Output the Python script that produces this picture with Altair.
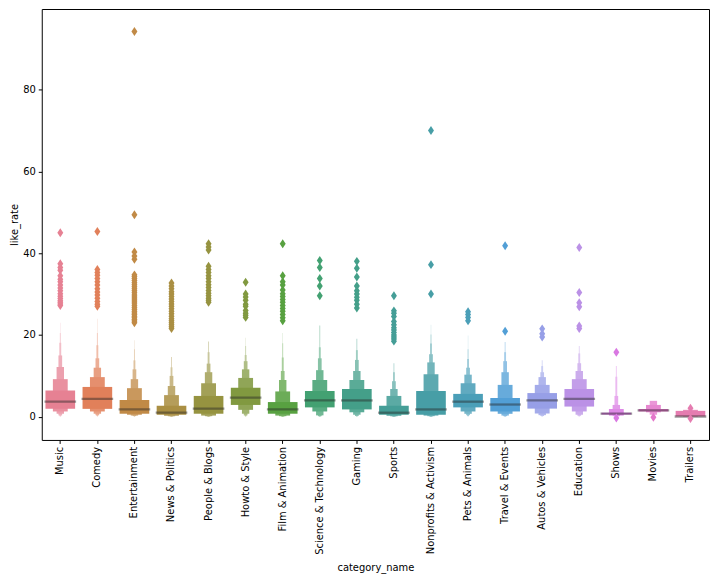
import math
import colorsys
import altair as alt
import pandas as pd

categories = ["Music", "Comedy", "Entertainment", "News & Politics", "People & Blogs",
              "Howto & Style", "Film & Animation", "Science & Technology", "Gaming", "Sports",
              "Nonprofits & Activism", "Pets & Animals", "Travel & Events", "Autos & Vehicles",
              "Education", "Shows", "Movies", "Trailers"]

medians = [3.7, 4.4, 1.8, 1.0, 2.0, 4.7, 1.8, 4.0, 4.0, 1.0, 1.8, 3.7, 3.0, 4.0, 4.4, 0.75, 1.55, 0.07]

# letter values, innermost (IQR) first
upper_values = [
    [6.4, 9.2, 12.2, 15.0, 18.1, 20.5, 23.0],
    [7.3, 9.7, 12.0, 14.3, 17.5, 20.5, 24.0],
    [4.1, 7.0, 9.2, 11.6, 13.8, 16.5, 18.7],
    [2.7, 5.3, 7.5, 10.0, 12.1, 14.6],
    [5.1, 8.2, 10.9, 13.0, 15.8, 18.4],
    [7.1, 9.5, 11.6, 13.6, 15.1, 17.3, 19.3],
    [3.6, 6.2, 9.0, 11.2, 14.5, 18.0, 20.5],
    [6.3, 9.0, 11.4, 14.3, 17.0, 22.3],
    [6.8, 9.0, 11.2, 13.9, 16.3, 19.1],
    [2.7, 5.1, 6.8, 8.7, 10.9, 13.1],
    [6.3, 10.4, 13.3, 15.3, 17.9, 20.1, 22.5],
    [5.6, 8.2, 10.3, 12.0, 14.1, 16.5, 19.9],
    [4.6, 7.8, 10.9, 13.6, 15.8, 18.3],
    [5.8, 7.8, 9.7, 10.9, 12.4, 13.8],
    [6.8, 9.2, 11.2, 13.1, 15.5, 17.3],
    [1.0, 1.9, 2.9, 5.1, 9.8, 12.4],
    [1.9, 2.9, 3.9],
    [1.45, 1.7],
]

lower_values = [
    [1.94, 1.3, 0.73, 0.35, 0.15, 0.08, 0.03],
    [1.94, 1.3, 0.75, 0.4, 0.2, 0.1, 0.05],
    [0.75, 0.5, 0.3, 0.2, 0.1, 0.05, 0.02],
    [0.5, 0.25, 0.15, 0.08, 0.04, 0.02],
    [0.75, 0.3, 0.15, 0.08, 0.04, 0.02],
    [2.9, 1.7, 0.75, 0.35, 0.15, 0.07, 0.03],
    [0.75, 0.3, 0.15, 0.08, 0.04, 0.02, 0.01],
    [2.3, 1.3, 0.35, 0.15, 0.07, 0.03],
    [1.8, 1.1, 0.5, 0.2, 0.1, 0.05],
    [0.5, 0.25, 0.12, 0.06, 0.03, 0.01],
    [0.5, 0.3, 0.15, 0.08, 0.04, 0.02, 0.01],
    [2.3, 1.3, 0.73, 0.4, 0.2, 0.1, 0.05],
    [1.3, 0.73, 0.3, 0.15, 0.07, 0.03],
    [2.0, 0.8, 0.4, 0.2, 0.1, 0.05],
    [2.5, 1.3, 0.5, 0.25, 0.12, 0.06],
    [0.55, 0.3, 0.15, 0.05, 0.02, 0.01],
    [1.3, 1.1, 0.5],
    [0.07, 0.03],
]

outliers = [
    [27.2, 27.6, 28.0, 28.4, 28.9, 29.5, 30.1, 30.8, 31.5, 32.2, 33.0, 33.6, 34.5, 35.8, 36.5, 37.4, 45.0],
    [27.0, 27.5, 28.2, 29.0, 29.8, 30.5, 31.3, 32.2, 33.0, 33.8, 34.6, 35.3, 36.0, 45.3],
    [23.0, 23.4, 23.8, 24.2, 24.6, 25.0, 25.4, 25.8, 26.3, 26.8, 27.3, 27.8, 28.3, 28.8, 29.3,
     29.8, 30.3, 30.8, 31.3, 31.8, 32.3, 32.8, 33.3, 33.8, 34.3, 34.7, 38.5, 39.3, 40.3, 49.4, 94.2],
    [21.6, 22.0, 22.5, 23.0, 23.5, 24.0, 24.6, 25.2, 25.8, 26.4, 27.0, 27.6, 28.2, 28.8, 29.4,
     30.0, 30.6, 31.3, 32.0, 32.7],
    [28.0, 28.5, 29.0, 29.6, 30.2, 30.9, 31.6, 32.3, 33.0, 33.8, 34.5, 35.3, 36.0, 36.8, 40.8, 41.5, 42.3],
    [24.3, 24.8, 25.3, 26.0, 27.0, 27.5, 28.5, 29.3, 30.0, 32.9],
    [23.5, 24.2, 25.0, 25.8, 26.5, 27.2, 28.0, 28.7, 29.4, 30.1, 31.0, 32.2, 33.0, 34.5, 42.3],
    [29.6, 32.0, 33.8, 36.5, 38.2],
    [26.6, 27.5, 28.5, 29.2, 30.0, 30.8, 32.0, 34.2, 36.3, 38.0],
    [18.5, 19.0, 19.5, 20.0, 20.6, 21.2, 21.8, 22.5, 23.3, 24.5, 25.3, 25.9, 29.6],
    [30.0, 37.2, 70.0],
    [23.5, 24.3, 25.0, 25.7],
    [20.9, 41.8],
    [19.5, 20.3, 21.5],
    [21.6, 22.2, 26.9, 27.9, 30.4, 41.4],
    [15.8, -0.3],
    [-0.1],
    [2.1, -0.4],
]

y_ticks = [0, 20, 40, 60, 80]

# ---------- seaborn-like husl palette ----------
M = [[3.240969941904521, -1.537383177570093, -0.498610760293],
     [-0.96924363628087, 1.87596750150772, 0.041555057407175],
     [0.055630079696993, -0.20397695888897, 1.056971514242878]]
REF_U = 0.19783000664283
REF_V = 0.46831999493879
KAPPA = 903.2962962
EPS = 0.0088564516


def _bounds(L):
    sub1 = (L + 16) ** 3 / 1560896
    sub2 = sub1 if sub1 > EPS else L / KAPPA
    out = []
    for m1, m2, m3 in M:
        for t in (0, 1):
            top1 = (284517 * m1 - 94839 * m3) * sub2
            top2 = (838422 * m3 + 769860 * m2 + 731718 * m1) * L * sub2 - 769860 * t * L
            bottom = (632260 * m3 - 126452 * m2) * sub2 + 126452 * t
            out.append((top1 / bottom, top2 / bottom))
    return out


def _max_chroma(L, H):
    hr = math.radians(H)
    best = float("inf")
    for slope, intercept in _bounds(L):
        length = intercept / (math.sin(hr) - slope * math.cos(hr))
        if length >= 0:
            best = min(best, length)
    return best


def husl_to_rgb(h, s, l):
    c = _max_chroma(l, h) / 100 * s
    hr = math.radians(h)
    u, v = c * math.cos(hr), c * math.sin(hr)
    y = ((l + 16) / 116) ** 3 if l > 8 else l / KAPPA
    vu = u / (13 * l) + REF_U
    vv = v / (13 * l) + REF_V
    x = -(9 * y * vu) / ((vu - 4) * vv - vu * vv)
    z = (9 * y - 15 * vv * y - vv * x) / (3 * vv)
    rgb = []
    for row in M:
        ch = row[0] * x + row[1] * y + row[2] * z
        ch = 12.92 * ch if ch <= 0.0031308 else 1.055 * ch ** (1 / 2.4) - 0.055
        rgb.append(min(max(ch, 0.0), 1.0))
    return rgb


def to_hex(rgb):
    return "#" + "".join(f"{int(round(c * 255)):02x}" for c in rgb)


n = len(categories)
base_colors = []
for i in range(n):
    h = ((i / n) + 0.01) % 1 * 359
    r, g, b = husl_to_rgb(h, 0.9 * 99, 0.65 * 99)
    hh, ll, ss = colorsys.rgb_to_hls(r, g, b)
    base_colors.append(colorsys.hls_to_rgb(hh, ll, ss * 0.75))

band = 672 / n
inner_w = 0.8 * band
n_boxes = 8

box_rows = []
for i, cat in enumerate(categories):
    for j in range(len(upper_values[i]) - 1, -1, -1):
        f = 0.85 * j / (n_boxes - 1)
        col = [c + f * (1 - c) for c in base_colors[i]]
        box_rows.append({"cat": cat, "lo": lower_values[i][j], "hi": upper_values[i][j],
                         "w": inner_w * 0.5 ** j, "color": to_hex(col), "ord": len(box_rows)})
boxes = pd.DataFrame(box_rows)

med = pd.DataFrame({"cat": categories, "median": medians})

out_rows = []
for i, cat in enumerate(categories):
    for v in outliers[i]:
        out_rows.append({"cat": cat, "v": v, "color": to_hex(base_colors[i])})
outs = pd.DataFrame(out_rows)

FONT = "DejaVu Sans"
xscale = alt.Scale(type="band", domain=categories, paddingInner=0, paddingOuter=0)
yscale = alt.Scale(domain=[-5.66, 99.7], nice=False, zero=False)

x_axis = alt.Axis(title="category_name", labelAngle=270, labelFont=FONT, labelFontSize=10,
                  labelColor="black", tickColor="black", tickSize=3.5, labelPadding=3,
                  domain=False, titleFont=FONT, titleFontSize=10, titleFontWeight="normal",
                  titleColor="black", titlePadding=8, labelOverlap=False)
y_axis = alt.Axis(title="like_rate", values=y_ticks, labelFont=FONT, labelFontSize=10,
                  labelColor="black", tickColor="black", tickSize=3.5, labelPadding=3,
                  domain=False, grid=False, titleFont=FONT, titleFontSize=10,
                  titleFontWeight="normal", titleColor="black", titlePadding=3)

box_layer = alt.Chart(boxes).mark_bar(strokeWidth=0).encode(
    x=alt.X("cat:N", scale=xscale, axis=x_axis, sort=categories),
    y=alt.Y("lo:Q", scale=yscale, axis=y_axis),
    y2="hi:Q",
    size=alt.Size("w:Q", scale=None),
    color=alt.Color("color:N", scale=None),
    order=alt.Order("ord:Q"),
)

median_layer = alt.Chart(med).mark_tick(color="#262626", opacity=0.45, thickness=2.3,
                                         size=inner_w + 2).encode(
    x=alt.X("cat:N", scale=xscale, sort=categories),
    y=alt.Y("median:Q", scale=yscale),
)

diamond = "M0,-1L0.667,0L0,1L-0.667,0Z"
out_layer = alt.Chart(outs).mark_point(shape=diamond, filled=True, opacity=1, size=81,
                                       strokeWidth=0).encode(
    x=alt.X("cat:N", scale=xscale, sort=categories),
    y=alt.Y("v:Q", scale=yscale),
    color=alt.Color("color:N", scale=None),
)

chart = alt.layer(box_layer, median_layer, out_layer).properties(
    width=672, height=434,
    autosize=alt.AutoSizeParams(type="none"),
    padding={"left": 34, "top": -1, "right": 1, "bottom": 134},
).configure_view(stroke="black", strokeWidth=1)

chart.save("out.html", embed_options={"renderer": "svg", "actions": False})
